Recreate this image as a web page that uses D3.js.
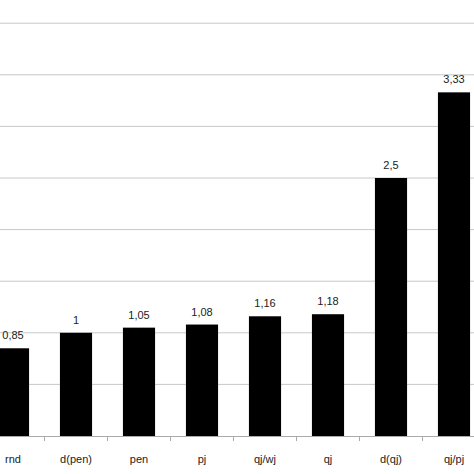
<!DOCTYPE html>
<html><head><meta charset="utf-8">
<script src="https://cdn.jsdelivr.net/npm/d3@7"></script>
<style>body{margin:0;background:#fff}text{font-family:"Liberation Sans",Arial,sans-serif}</style>
</head><body>
<script>
var categories = ['rnd', 'd(pen)', 'pen', 'pj', 'qj/wj', 'qj', 'd(qj)', 'qj/pj'];
var values = [0.85, 1, 1.05, 1.08, 1.16, 1.18, 2.5, 3.33];
var labels = ['0,85', '1', '1,05', '1,08', '1,16', '1,18', '2,5', '3,33'];
var gridTicks = [0.5, 1, 1.5, 2, 2.5, 3, 3.5, 4];

var svg = d3.select('body').append('svg').attr('width', 474).attr('height', 474);
var x = d3.scaleBand().domain(categories).range([-18.5, 485.5]).paddingInner(0.49).paddingOuter(0.245);
var y = d3.scaleLinear().domain([0, 4]).range([436, 23.2]);

// grid
svg.append('g').selectAll('line').data(gridTicks).join('line')
	.attr('x1', 0).attr('x2', 474)
	.attr('y1', function (d) { return y(d); }).attr('y2', function (d) { return y(d); })
	.attr('stroke', '#c8c8c8').attr('stroke-width', 1);

// bars
svg.append('g').selectAll('rect').data(values).join('rect')
	.attr('x', function (d, i) { return x(categories[i]); })
	.attr('width', x.bandwidth())
	.attr('y', function (d) { return y(d); })
	.attr('height', function (d) { return y(0) - y(d); })
	.attr('fill', '#000');

// value labels
svg.append('g').selectAll('text').data(values).join('text')
	.attr('x', function (d, i) { return x(categories[i]) + x.bandwidth() / 2; })
	.attr('y', function (d) { return y(d) - 9; })
	.attr('text-anchor', 'middle').attr('font-size', 11).attr('fill', '#222')
	.text(function (d, i) { return labels[i]; });

// x axis
var ax = svg.append('g').attr('transform', 'translate(0,436)')
	.call(d3.axisBottom(x).tickSize(0).tickPadding(19));
ax.select('.domain').attr('stroke', '#aaa');
ax.selectAll('text').attr('font-size', 11).attr('fill', '#222')
	.attr('font-family', '"Liberation Sans",Arial,sans-serif');
// separators between categories
ax.selectAll('.sep').data(categories.slice(1)).join('line')
	.attr('x1', function (d) { return x(d) - x.step() * x.paddingInner() / 2; })
	.attr('x2', function (d) { return x(d) - x.step() * x.paddingInner() / 2; })
	.attr('y1', 0).attr('y2', 5).attr('stroke', '#aaa');
</script>
</body></html>
